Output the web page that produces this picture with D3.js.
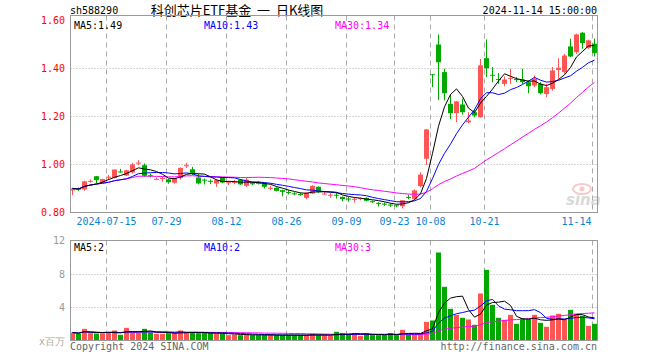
<!DOCTYPE html>
<html>
<head>
<meta charset="utf-8">
<script src="https://cdn.jsdelivr.net/npm/d3@7"></script>
<style>
  body { margin: 0; background: #fff; }
  text { font-family: "DejaVu Sans Mono", monospace; font-size: 10px; }
</style>
</head>
<body>
<svg id="chart" width="660" height="360"></svg>
<script>
// trading days shown
var dates = [
  "2024-07-05","2024-07-08","2024-07-09","2024-07-10","2024-07-11","2024-07-12",
  "2024-07-15","2024-07-16","2024-07-17","2024-07-18","2024-07-19",
  "2024-07-22","2024-07-23","2024-07-24","2024-07-25","2024-07-26",
  "2024-07-29","2024-07-30","2024-07-31","2024-08-01","2024-08-02",
  "2024-08-05","2024-08-06","2024-08-07","2024-08-08","2024-08-09",
  "2024-08-12","2024-08-13","2024-08-14","2024-08-15","2024-08-16",
  "2024-08-19","2024-08-20","2024-08-21","2024-08-22","2024-08-23",
  "2024-08-26","2024-08-27","2024-08-28","2024-08-29","2024-08-30",
  "2024-09-02","2024-09-03","2024-09-04","2024-09-05","2024-09-06",
  "2024-09-09","2024-09-10","2024-09-11","2024-09-12","2024-09-13",
  "2024-09-18","2024-09-19","2024-09-20",
  "2024-09-23","2024-09-24","2024-09-25","2024-09-26","2024-09-27","2024-09-30",
  "2024-10-08","2024-10-09","2024-10-10","2024-10-11",
  "2024-10-14","2024-10-15","2024-10-16","2024-10-17","2024-10-18",
  "2024-10-21","2024-10-22","2024-10-23","2024-10-24","2024-10-25",
  "2024-10-28","2024-10-29","2024-10-30","2024-10-31","2024-11-01",
  "2024-11-04","2024-11-05","2024-11-06","2024-11-07","2024-11-08",
  "2024-11-11","2024-11-12","2024-11-13","2024-11-14"
];

var open = [
  0.892,0.899,0.896,0.930,0.951,0.925,0.947,0.944,0.971,0.954,
  0.967,1.005,0.997,0.955,0.938,0.942,0.938,0.924,0.944,0.994,
  0.980,0.946,0.937,0.932,0.921,0.946,0.924,0.926,0.937,0.911,
  0.922,0.924,0.924,0.901,0.903,0.893,0.885,0.880,0.877,0.861,
  0.879,0.907,0.877,0.872,0.874,0.865,0.858,0.855,0.856,0.861,
  0.847,0.840,0.837,0.833,0.830,0.826,0.865,0.857,0.910,1.024,
  1.376,1.500,1.385,1.253,1.214,1.250,1.176,1.218,1.197,1.443,
  1.374,1.356,1.336,1.358,1.356,1.354,1.343,1.329,1.336,1.294,
  1.315,1.394,1.385,1.492,1.468,1.549,1.486,1.503
];
var high = [
  0.903,0.904,0.932,0.938,0.952,0.941,0.957,0.980,0.982,0.978,
  1.007,1.018,1.004,0.962,0.946,0.951,0.940,0.944,0.988,1.007,
  0.990,0.962,0.942,0.938,0.937,0.948,0.932,0.935,0.940,0.944,
  0.928,0.930,0.926,0.911,0.905,0.895,0.893,0.885,0.882,0.884,
  0.914,0.909,0.888,0.882,0.883,0.867,0.865,0.864,0.862,0.863,
  0.850,0.843,0.842,0.838,0.834,0.852,0.874,0.896,0.967,1.148,
  1.376,1.542,1.399,1.292,1.265,1.274,1.218,1.232,1.440,1.521,
  1.406,1.381,1.367,1.399,1.364,1.399,1.350,1.371,1.343,1.336,
  1.406,1.443,1.461,1.524,1.545,1.552,1.520,1.524
];
var low = [
  0.872,0.890,0.891,0.925,0.922,0.922,0.937,0.942,0.966,0.952,
  0.962,0.997,0.949,0.946,0.935,0.928,0.920,0.920,0.937,0.986,
  0.956,0.917,0.917,0.918,0.907,0.922,0.914,0.918,0.915,0.907,
  0.914,0.917,0.900,0.893,0.888,0.868,0.875,0.872,0.870,0.855,
  0.877,0.882,0.874,0.861,0.858,0.847,0.845,0.841,0.851,0.846,
  0.840,0.825,0.828,0.824,0.822,0.817,0.855,0.853,0.905,0.998,
  1.322,1.269,1.267,1.189,1.176,1.208,1.172,1.197,1.195,1.364,
  1.343,1.336,1.326,1.336,1.343,1.336,1.297,1.322,1.292,1.280,
  1.308,1.357,1.378,1.447,1.461,1.482,1.482,1.450
];
var close = [
  0.900,0.896,0.930,0.932,0.935,0.939,0.949,0.979,0.968,0.976,
  1.000,1.008,0.953,0.952,0.940,0.944,0.926,0.942,0.986,0.997,
  0.962,0.921,0.934,0.929,0.935,0.925,0.926,0.928,0.917,0.937,
  0.920,0.921,0.907,0.903,0.890,0.886,0.882,0.877,0.874,0.882,
  0.911,0.886,0.879,0.874,0.871,0.856,0.855,0.857,0.860,0.849,
  0.844,0.837,0.834,0.830,0.827,0.851,0.862,0.892,0.958,1.146,
  1.375,1.426,1.297,1.214,1.263,1.218,1.183,1.204,1.413,1.401,
  1.370,1.352,1.354,1.361,1.352,1.343,1.326,1.357,1.297,1.322,
  1.392,1.403,1.454,1.450,1.542,1.506,1.517,1.464
];
// volume, millions of shares
var volume = [
  0.96,0.80,1.40,0.88,0.84,0.88,0.96,1.20,0.68,1.52,
  0.96,0.92,1.40,0.96,0.80,0.80,0.88,0.88,1.20,0.92,
  0.96,0.88,0.88,0.88,0.84,0.84,0.64,0.72,0.64,0.72,
  0.64,0.64,0.64,0.68,0.64,0.64,0.64,0.64,0.64,0.64,
  0.80,0.64,0.64,0.56,1.04,0.88,0.72,0.88,0.56,0.88,
  0.64,0.64,0.64,0.88,0.64,1.28,0.80,0.72,0.80,2.24,
  2.40,10.56,6.44,3.80,3.08,2.72,2.52,1.88,5.64,8.48,
  4.28,2.72,2.48,3.08,2.00,2.68,2.56,3.08,2.12,1.64,
  3.00,3.20,2.48,3.68,3.20,2.96,1.76,2.00
];

var priceTicks = [0.8, 1.0, 1.2, 1.4, 1.6];
var priceGrid = [1.0, 1.2, 1.4];
var volTicks = [4, 8, 12];
var volGrid = [4, 8];
var dateTicks = ["2024-07-15","2024-07-29","2024-08-12","2024-08-26","2024-09-09",
                 "2024-09-23","2024-10-08","2024-10-21","2024-11-14"];
var maPeriods = [5, 10, 30];
var maColors = ["#000000", "#0000ff", "#ff00ff"];

var up = "#ff5555", down = "#00a800", gridC = "#aaaaaa";

var svg = d3.select("#chart");

// layout
var left = 70.5, right = 597.5;
var pTop = 15.5, pBot = 212.5;
var vTop = 240.5, vBot = 340.5;

var x = d3.scalePoint().domain(dates).range([70.5, 592.5]);
var cx = function(i) { return x(dates[i]) + 2; };
var y = d3.scaleLinear().domain([0.8, 1.6]).range([212.5, 20.5]);
var yv = d3.scaleLinear().domain([0, 12]).range([vBot, vTop]);

function ma(arr, n) {
  return arr.map(function(_, i) {
    return d3.mean(arr.slice(Math.max(0, i - n + 1), i + 1));
  });
}
function floor2(v) { return (Math.floor(v * 100 + 1e-9) / 100).toFixed(2); }

// header
svg.append("text").attr("x", 70).attr("y", 14).attr("fill", "#000").text("sh588290");
svg.append("text").attr("x", 237).attr("y", 15).attr("text-anchor", "middle")
  .style("font-family", "'Noto Sans CJK SC', sans-serif").style("font-size", "13px")
  .attr("fill", "#000").text("科创芯片ETF基金\u00a0\u00a0一\u00a0\u00a0日K线图");
svg.append("text").attr("x", 597).attr("y", 14).attr("text-anchor", "end")
  .attr("fill", "#000").text("2024-11-14 15:00:00");

// grids
[[pTop, pBot], [vTop, vBot]].forEach(function(r) {
  svg.append("g").selectAll("line").data(dateTicks).enter().append("line")
    .attr("x1", function(d) { return x(d); }).attr("x2", function(d) { return x(d); })
    .attr("y1", r[0]).attr("y2", r[1])
    .attr("stroke", gridC).attr("stroke-dasharray", "5,4");
});
svg.append("g").selectAll("line").data(priceGrid).enter().append("line")
  .attr("x1", left).attr("x2", right)
  .attr("y1", function(d) { return y(d); }).attr("y2", function(d) { return y(d); })
  .attr("stroke", gridC).attr("stroke-dasharray", "1,2");
svg.append("g").selectAll("line").data(volGrid).enter().append("line")
  .attr("x1", left).attr("x2", right)
  .attr("y1", function(d) { return Math.round(yv(d)) + 0.5; })
  .attr("y2", function(d) { return Math.round(yv(d)) + 0.5; })
  .attr("stroke", gridC).attr("stroke-dasharray", "1,2");

// y axes
var pAxis = svg.append("g").attr("transform", "translate(70,0)")
  .call(d3.axisLeft(y).tickValues(priceTicks).tickFormat(d3.format(".2f")).tickSize(0).tickPadding(5));
pAxis.select(".domain").remove();
pAxis.selectAll("text").attr("fill", "#ff0000")
  .style("font-family", "'DejaVu Sans Mono', monospace").style("font-size", "10px");

var vAxis = svg.append("g").attr("transform", "translate(70,0)")
  .call(d3.axisLeft(yv).tickValues(volTicks).tickFormat(d3.format("d")).tickSize(0).tickPadding(5));
vAxis.select(".domain").remove();
vAxis.selectAll("text").attr("fill", "#999")
  .style("font-family", "'DejaVu Sans Mono', monospace").style("font-size", "10px");

svg.append("text").attr("x", 65).attr("y", 345).attr("text-anchor", "end")
  .attr("fill", "#aaa").text("x百万");

// date labels
svg.append("g").selectAll("text").data(dateTicks).enter().append("text")
  .attr("x", function(d, i) { return i === dateTicks.length - 1 ? x(d) - 1 : x(d); })
  .attr("y", 225)
  .attr("text-anchor", function(d, i) { return i === dateTicks.length - 1 ? "end" : "middle"; })
  .attr("fill", "#0a84d0")
  .text(function(d, i) { return i === 0 ? d : d.slice(5); });

// watermark
var wm = svg.append("g").attr("opacity", 0.55);
wm.append("ellipse").attr("cx", 582).attr("cy", 189).attr("rx", 9).attr("ry", 5)
  .attr("fill", "none").attr("stroke", "#f3a0a0").attr("stroke-width", 2);
wm.append("circle").attr("cx", 582).attr("cy", 189).attr("r", 2.5).attr("fill", "#f3a0a0");
wm.append("text").attr("x", 566).attr("y", 205)
  .style("font-family", "'DejaVu Sans', sans-serif").style("font-size", "15px")
  .style("font-weight", "bold").style("font-style", "italic")
  .attr("fill", "#bbb").text("sina");

// candles
var idx = d3.range(dates.length);
var isUp = function(i) { return close[i] >= open[i]; };
var cg = svg.append("g");
cg.selectAll("line").data(idx).enter().append("line")
  .attr("x1", function(i) { return cx(i); }).attr("x2", function(i) { return cx(i); })
  .attr("y1", function(i) { return y(high[i]); }).attr("y2", function(i) { return y(low[i]); })
  .attr("stroke", function(i) { return isUp(i) ? up : down; });
cg.selectAll("rect").data(idx).enter().append("rect")
  .attr("x", function(i) { return cx(i) - 2.5; }).attr("width", 5)
  .attr("y", function(i) { return y(Math.max(open[i], close[i])); })
  .attr("height", function(i) { return Math.max(1, Math.abs(y(open[i]) - y(close[i]))); })
  .attr("fill", function(i) { return isUp(i) ? up : down; });

// volume bars
svg.append("g").selectAll("rect").data(idx).enter().append("rect")
  .attr("x", function(i) { return cx(i) - 2.5; }).attr("width", 5)
  .attr("y", function(i) { return yv(volume[i]); })
  .attr("height", function(i) { return vBot - yv(volume[i]); })
  .attr("fill", function(i) { return isUp(i) ? up : down; });

// moving averages
var priceLine = d3.line().x(function(d, i) { return cx(i); }).y(function(d) { return y(d); });
var volLine = d3.line().x(function(d, i) { return cx(i); }).y(function(d) { return yv(d); });
var labX = [74, 204, 335];
maPeriods.slice().reverse().forEach(function(n) {
  var k = maPeriods.indexOf(n);
  svg.append("path").datum(ma(close, n)).attr("d", priceLine)
    .attr("fill", "none").attr("stroke", maColors[k]).attr("stroke-width", 1);
  svg.append("path").datum(ma(volume, n)).attr("d", volLine)
    .attr("fill", "none").attr("stroke", maColors[k]).attr("stroke-width", 1);
});
maPeriods.forEach(function(n, k) {
  var pm = ma(close, n), vm = ma(volume, n);
  svg.append("text").attr("x", labX[k]).attr("y", 29).attr("fill", maColors[k])
    .text("MA" + n + ":" + floor2(pm[pm.length - 1]));
  svg.append("text").attr("x", labX[k]).attr("y", 251).attr("fill", maColors[k])
    .text("MA" + n + ":" + Math.floor(vm[vm.length - 1]));
});

// frames
[[pTop, pBot], [vTop, vBot]].forEach(function(r) {
  svg.append("rect").attr("x", left).attr("y", r[0])
    .attr("width", right - left).attr("height", r[1] - r[0])
    .attr("fill", "none").attr("stroke", "#999");
});

// footer
svg.append("text").attr("x", 70).attr("y", 350).attr("fill", "#666").text("Copyright 2024 SINA.COM");
svg.append("text").attr("x", 597).attr("y", 350).attr("text-anchor", "end")
  .attr("fill", "#666").text("http://finance.sina.com.cn");
</script>
</body>
</html>
